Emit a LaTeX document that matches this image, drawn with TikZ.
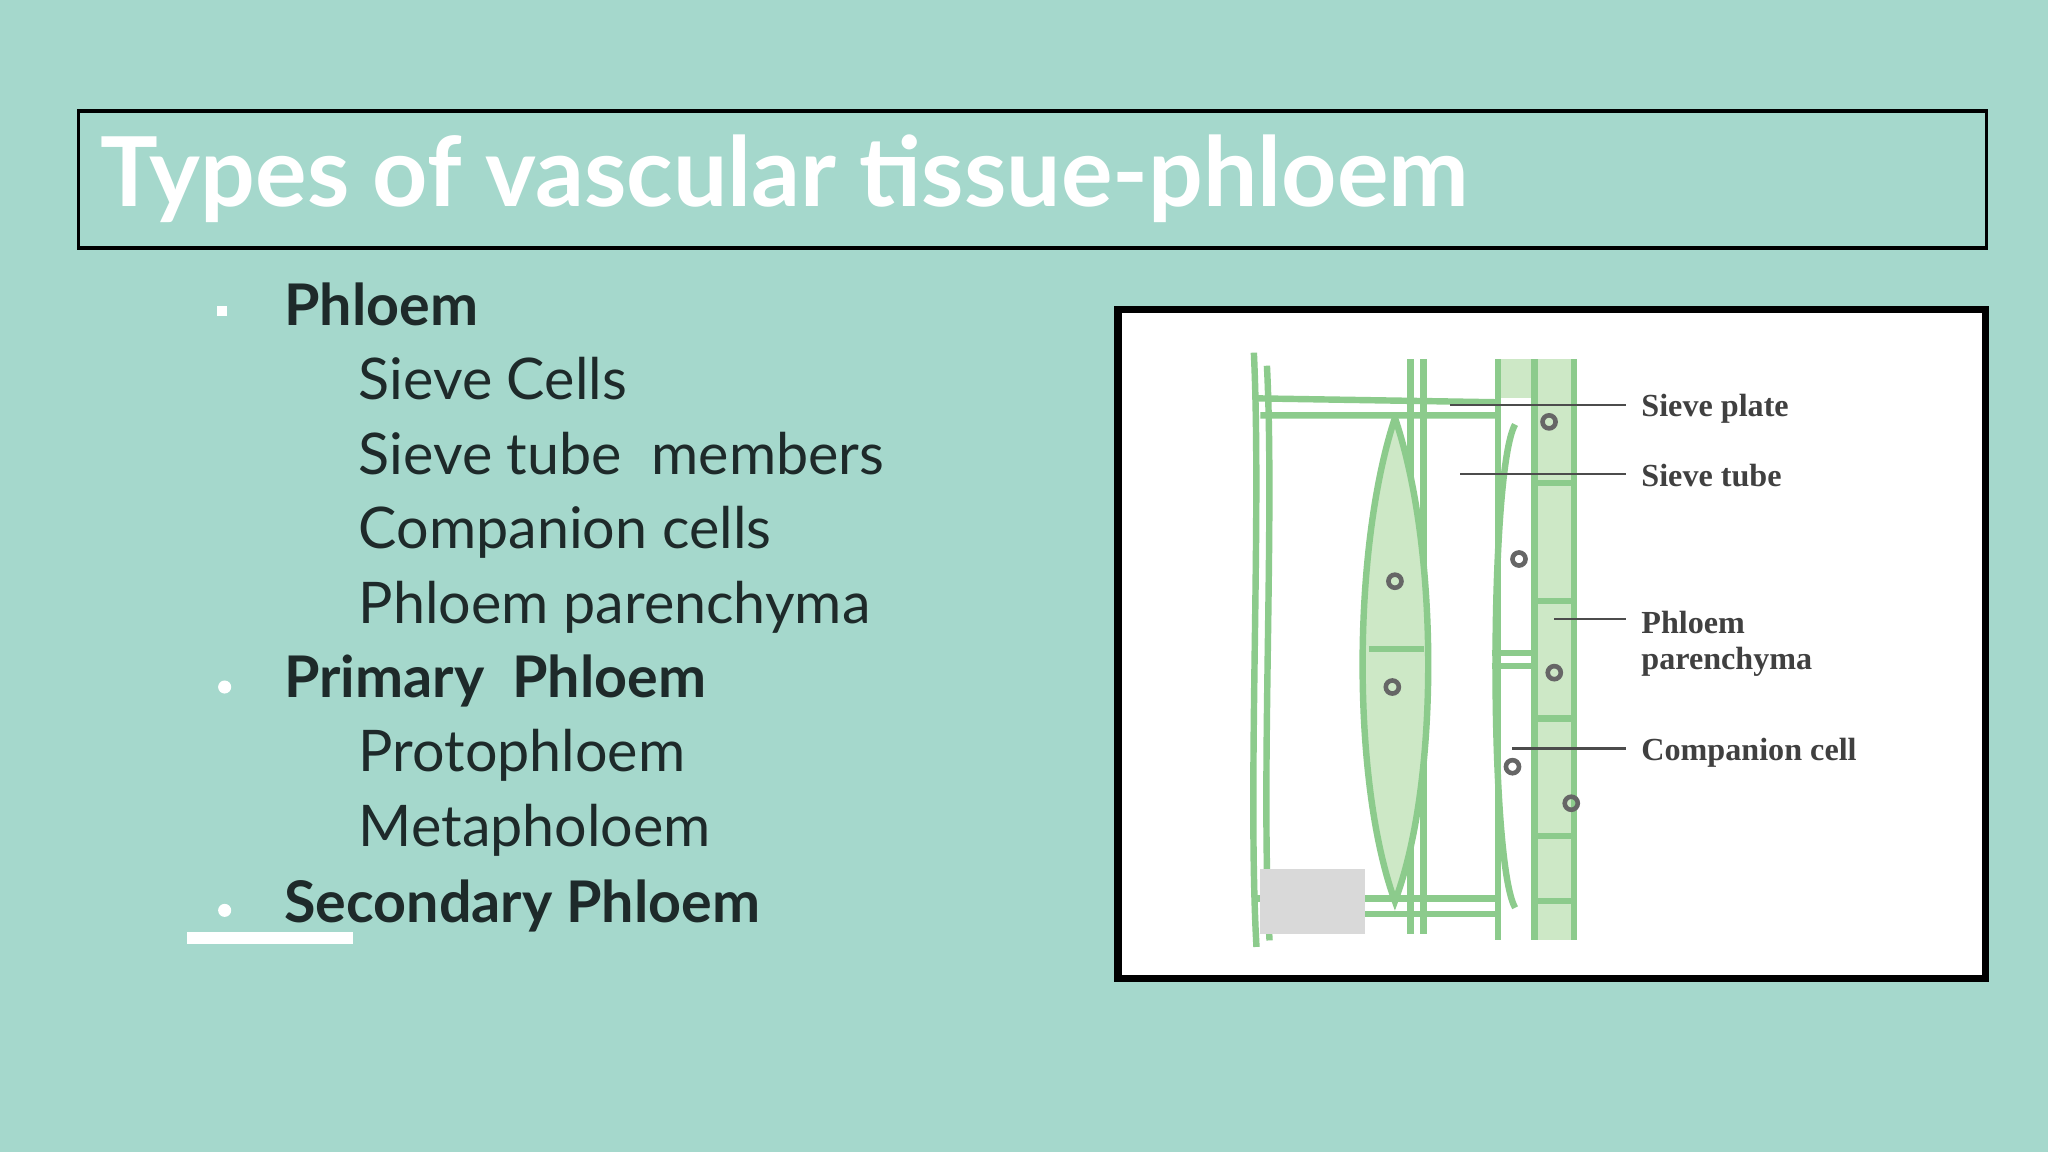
\documentclass[tikz,border=0pt]{standalone}
\usepackage{fontspec}
\setmainfont{Lato}
\newfontfamily\labfont{Liberation Serif}
\definecolor{bg}{HTML}{A5D8CC}
\definecolor{wallg}{HTML}{8CCB8C}
\definecolor{cellg}{HTML}{CDE8C6}
\definecolor{txt}{HTML}{1E2A2A}
\begin{document}
\begin{tikzpicture}[x=0.01cm,y=-0.01cm,
  item/.style={anchor=base west,font=\fontsize{12.5}{14}\selectfont,text=txt,inner sep=0},
  head/.style={item,font=\fontsize{12.5}{14}\selectfont\bfseries},
  lab/.style={anchor=west,font=\labfont\fontsize{7}{8}\selectfont\bfseries,text=black!75,inner sep=0,align=left},
  wall/.style={draw=wallg,line width=1.4pt},
  lead/.style={draw=black!70,line width=0.6pt}]
\fill[bg] (0,0) rectangle (1568,882);
\useasboundingbox (0,0) rectangle (1568,882);
\draw[line width=0.8pt] (60,85) rectangle (1521,190);
\node[anchor=base west,inner sep=0,text=white,font=\fontsize{21}{24}\selectfont\bfseries] (title) at (76,158) {Types of vascular tissue-phloem};
% bullets
\fill[white] (166,234) rectangle (174,242);
\fill[white] (172,526) circle (5);
\fill[white] (172,697) circle (5);
\node[head] (b1) at (217,249) {Phloem};
\node[item] (i1) at (274,306) {Sieve Cells};
\node[item] (i2) at (274,363) {Sieve tube\ \ members};
\node[item] (i3) at (274,420) {Companion cells};
\node[item] (i4) at (274,477) {Phloem parenchyma};
\node[head] (b2) at (217,534) {Primary\ \ Phloem};
\node[item] (i5) at (274,591) {Protophloem};
\node[item] (i6) at (274,648) {Metapholoem};
\node[head] (b3) at (217,706) {Secondary Phloem};
\draw[white,line width=2.5pt] (143,718) -- (270,718);
% image
\draw[fill=white,line width=1.6pt] (856,237) rectangle (1520,749);
% parenchyma column
\fill[cellg] (1175,275) rectangle (1205,720);
\fill[cellg] (1147,275) rectangle (1175,305);
\draw[wall] (1147,275) -- (1147,720) (1205,275) -- (1205,720) (1175,275) -- (1175,720);
\foreach \y in {370,460,550,640,690} \draw[wall] (1175,\y) -- (1205,\y);
% outer sieve tube walls
\draw[wall] (960,270) .. controls (966,400) and (955,600) .. (962,725);
\draw[wall] (970,280) .. controls (976,400) and (965,600) .. (972,720);
\draw[wall] (1080,275) -- (1080,715) (1090,275) -- (1090,715);
% sieve plates
\draw[wall] (962,305) -- (1147,308) (965,318) -- (1147,318);
\draw[wall] (962,688) -- (1147,688) (965,700) -- (1147,700);
% companion cell (spindle)
\fill[cellg] (1068,320) .. controls (1035,420) and (1035,600) .. (1068,690) .. controls (1102,600) and (1102,420) .. (1068,320);
\draw[wall] (1068,320) .. controls (1035,420) and (1035,600) .. (1068,690) .. controls (1102,600) and (1102,420) .. (1068,320);
\draw[wall] (1048,497) -- (1090,497);
\draw[black!60,line width=1pt] (1068,445) circle (5) (1066,526) circle (5);
% right companion cells
\draw[wall] (1160,325) .. controls (1140,360) and (1140,660) .. (1160,695);
\draw[wall] (1142,500) -- (1175,500) (1142,510) -- (1175,510);
\draw[black!60,line width=1pt] (1163,428) circle (5) (1158,587) circle (5) (1190,515) circle (5) (1203,615) circle (5) (1186,323) circle (5);
\fill[black!15] (965,665) rectangle (1045,715);
% leaders and labels
\coordinate (s1) at (1110,310); \coordinate (s2) at (1118,363);
\coordinate (s3) at (1190,474); \coordinate (s4) at (1158,573);
\node[lab] (l1) at (1256,313) {Sieve plate};
\node[lab] (l2) at (1256,364) {Sieve tube};
\node[lab] (l3) at (1256,493) {Phloem\\parenchyma};
\node[lab] (l4) at (1256,576) {Companion cell};
\draw[lead] (s1) -- (1245,310);
\draw[lead] (s2) -- (1245,363);
\draw[lead] (s3) -- (1245,474);
\draw[lead] (s4) -- (1245,573);
\end{tikzpicture}
\end{document}
